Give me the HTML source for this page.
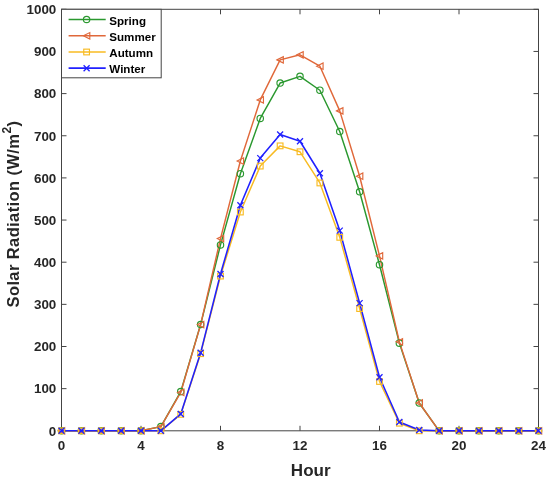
<!DOCTYPE html>
<html><head><meta charset="utf-8"><style>
html,body{margin:0;padding:0;background:#fff;width:550px;height:480px;overflow:hidden}
svg{display:block}
</style></head><body><svg width="550" height="480" viewBox="0 0 550 480"><rect x="61.5" y="9.3" width="477.0" height="421.5" fill="#fff" stroke="none"/><path d="M61.5,430.80h5M538.5,430.80h-5M61.5,388.65h5M538.5,388.65h-5M61.5,346.50h5M538.5,346.50h-5M61.5,304.35h5M538.5,304.35h-5M61.5,262.20h5M538.5,262.20h-5M61.5,220.05h5M538.5,220.05h-5M61.5,177.90h5M538.5,177.90h-5M61.5,135.75h5M538.5,135.75h-5M61.5,93.60h5M538.5,93.60h-5M61.5,51.45h5M538.5,51.45h-5M61.5,9.30h5M538.5,9.30h-5M61.50,430.8v-5M61.50,9.3v5M141.00,430.8v-5M141.00,9.3v5M220.50,430.8v-5M220.50,9.3v5M300.00,430.8v-5M300.00,9.3v5M379.50,430.8v-5M379.50,9.3v5M459.00,430.8v-5M459.00,9.3v5M538.50,430.8v-5M538.50,9.3v5" stroke="#444444" stroke-width="1" fill="none"/><rect x="61.5" y="9.3" width="477.0" height="421.5" fill="none" stroke="#444444" stroke-width="1"/><polyline points="61.50,430.80 81.38,430.80 101.25,430.80 121.12,430.80 141.00,430.80 160.88,426.59 180.75,391.60 200.62,324.58 220.50,244.92 240.38,173.69 260.25,118.47 280.12,83.06 300.00,76.32 319.88,90.23 339.75,131.54 359.62,191.81 379.50,264.73 399.38,343.13 419.25,402.98 439.12,430.80 459.00,430.80 478.88,430.80 498.75,430.80 518.62,430.80 538.50,430.80" fill="none" stroke="#2a982f" stroke-width="1.45" stroke-linejoin="round"/><polyline points="61.50,430.80 81.38,430.80 101.25,430.80 121.12,430.80 141.00,430.80 160.88,426.59 180.75,392.44 200.62,324.58 220.50,238.60 240.38,161.04 260.25,99.92 280.12,59.88 300.00,54.82 319.88,66.20 339.75,110.88 359.62,176.21 379.50,255.88 399.38,341.86 419.25,402.98 439.12,430.80 459.00,430.80 478.88,430.80 498.75,430.80 518.62,430.80 538.50,430.80" fill="none" stroke="#e0683a" stroke-width="1.45" stroke-linejoin="round"/><polyline points="61.50,430.80 81.38,430.80 101.25,430.80 121.12,430.80 141.00,430.80 160.88,430.80 180.75,414.36 200.62,353.67 220.50,276.11 240.38,212.04 260.25,166.10 280.12,145.87 300.00,151.77 319.88,182.96 339.75,237.33 359.62,308.56 379.50,381.48 399.38,423.21 419.25,430.80 439.12,430.80 459.00,430.80 478.88,430.80 498.75,430.80 518.62,430.80 538.50,430.80" fill="none" stroke="#f8bb22" stroke-width="1.45" stroke-linejoin="round"/><polyline points="61.50,430.80 81.38,430.80 101.25,430.80 121.12,430.80 141.00,430.80 160.88,430.80 180.75,413.94 200.62,352.82 220.50,274.00 240.38,205.30 260.25,158.09 280.12,134.49 300.00,141.23 319.88,173.26 339.75,230.59 359.62,303.09 379.50,377.27 399.38,421.95 419.25,429.96 439.12,430.80 459.00,430.80 478.88,430.80 498.75,430.80 518.62,430.80 538.50,430.80" fill="none" stroke="#2020ff" stroke-width="1.55" stroke-linejoin="round"/><circle cx="61.50" cy="430.80" r="3.20" fill="none" stroke="#2a982f" stroke-width="1.15"/><circle cx="81.38" cy="430.80" r="3.20" fill="none" stroke="#2a982f" stroke-width="1.15"/><circle cx="101.25" cy="430.80" r="3.20" fill="none" stroke="#2a982f" stroke-width="1.15"/><circle cx="121.12" cy="430.80" r="3.20" fill="none" stroke="#2a982f" stroke-width="1.15"/><circle cx="141.00" cy="430.80" r="3.20" fill="none" stroke="#2a982f" stroke-width="1.15"/><circle cx="160.88" cy="426.59" r="3.20" fill="none" stroke="#2a982f" stroke-width="1.15"/><circle cx="180.75" cy="391.60" r="3.20" fill="none" stroke="#2a982f" stroke-width="1.15"/><circle cx="200.62" cy="324.58" r="3.20" fill="none" stroke="#2a982f" stroke-width="1.15"/><circle cx="220.50" cy="244.92" r="3.20" fill="none" stroke="#2a982f" stroke-width="1.15"/><circle cx="240.38" cy="173.69" r="3.20" fill="none" stroke="#2a982f" stroke-width="1.15"/><circle cx="260.25" cy="118.47" r="3.20" fill="none" stroke="#2a982f" stroke-width="1.15"/><circle cx="280.12" cy="83.06" r="3.20" fill="none" stroke="#2a982f" stroke-width="1.15"/><circle cx="300.00" cy="76.32" r="3.20" fill="none" stroke="#2a982f" stroke-width="1.15"/><circle cx="319.88" cy="90.23" r="3.20" fill="none" stroke="#2a982f" stroke-width="1.15"/><circle cx="339.75" cy="131.54" r="3.20" fill="none" stroke="#2a982f" stroke-width="1.15"/><circle cx="359.62" cy="191.81" r="3.20" fill="none" stroke="#2a982f" stroke-width="1.15"/><circle cx="379.50" cy="264.73" r="3.20" fill="none" stroke="#2a982f" stroke-width="1.15"/><circle cx="399.38" cy="343.13" r="3.20" fill="none" stroke="#2a982f" stroke-width="1.15"/><circle cx="419.25" cy="402.98" r="3.20" fill="none" stroke="#2a982f" stroke-width="1.15"/><circle cx="439.12" cy="430.80" r="3.20" fill="none" stroke="#2a982f" stroke-width="1.15"/><circle cx="459.00" cy="430.80" r="3.20" fill="none" stroke="#2a982f" stroke-width="1.15"/><circle cx="478.88" cy="430.80" r="3.20" fill="none" stroke="#2a982f" stroke-width="1.15"/><circle cx="498.75" cy="430.80" r="3.20" fill="none" stroke="#2a982f" stroke-width="1.15"/><circle cx="518.62" cy="430.80" r="3.20" fill="none" stroke="#2a982f" stroke-width="1.15"/><circle cx="538.50" cy="430.80" r="3.20" fill="none" stroke="#2a982f" stroke-width="1.15"/><path d="M58.30,430.80L64.70,427.60L64.70,434.00Z" fill="none" stroke="#e0683a" stroke-width="1.15"/><path d="M78.17,430.80L84.58,427.60L84.58,434.00Z" fill="none" stroke="#e0683a" stroke-width="1.15"/><path d="M98.05,430.80L104.45,427.60L104.45,434.00Z" fill="none" stroke="#e0683a" stroke-width="1.15"/><path d="M117.92,430.80L124.33,427.60L124.33,434.00Z" fill="none" stroke="#e0683a" stroke-width="1.15"/><path d="M137.80,430.80L144.20,427.60L144.20,434.00Z" fill="none" stroke="#e0683a" stroke-width="1.15"/><path d="M157.68,426.59L164.07,423.39L164.07,429.79Z" fill="none" stroke="#e0683a" stroke-width="1.15"/><path d="M177.55,392.44L183.95,389.24L183.95,395.64Z" fill="none" stroke="#e0683a" stroke-width="1.15"/><path d="M197.43,324.58L203.82,321.38L203.82,327.78Z" fill="none" stroke="#e0683a" stroke-width="1.15"/><path d="M217.30,238.60L223.70,235.40L223.70,241.80Z" fill="none" stroke="#e0683a" stroke-width="1.15"/><path d="M237.18,161.04L243.57,157.84L243.57,164.24Z" fill="none" stroke="#e0683a" stroke-width="1.15"/><path d="M257.05,99.92L263.45,96.72L263.45,103.12Z" fill="none" stroke="#e0683a" stroke-width="1.15"/><path d="M276.93,59.88L283.32,56.68L283.32,63.08Z" fill="none" stroke="#e0683a" stroke-width="1.15"/><path d="M296.80,54.82L303.20,51.62L303.20,58.02Z" fill="none" stroke="#e0683a" stroke-width="1.15"/><path d="M316.68,66.20L323.07,63.00L323.07,69.40Z" fill="none" stroke="#e0683a" stroke-width="1.15"/><path d="M336.55,110.88L342.95,107.68L342.95,114.08Z" fill="none" stroke="#e0683a" stroke-width="1.15"/><path d="M356.43,176.21L362.82,173.01L362.82,179.41Z" fill="none" stroke="#e0683a" stroke-width="1.15"/><path d="M376.30,255.88L382.70,252.68L382.70,259.08Z" fill="none" stroke="#e0683a" stroke-width="1.15"/><path d="M396.18,341.86L402.57,338.66L402.57,345.06Z" fill="none" stroke="#e0683a" stroke-width="1.15"/><path d="M416.05,402.98L422.45,399.78L422.45,406.18Z" fill="none" stroke="#e0683a" stroke-width="1.15"/><path d="M435.93,430.80L442.32,427.60L442.32,434.00Z" fill="none" stroke="#e0683a" stroke-width="1.15"/><path d="M455.80,430.80L462.20,427.60L462.20,434.00Z" fill="none" stroke="#e0683a" stroke-width="1.15"/><path d="M475.68,430.80L482.07,427.60L482.07,434.00Z" fill="none" stroke="#e0683a" stroke-width="1.15"/><path d="M495.55,430.80L501.95,427.60L501.95,434.00Z" fill="none" stroke="#e0683a" stroke-width="1.15"/><path d="M515.42,430.80L521.83,427.60L521.83,434.00Z" fill="none" stroke="#e0683a" stroke-width="1.15"/><path d="M535.30,430.80L541.70,427.60L541.70,434.00Z" fill="none" stroke="#e0683a" stroke-width="1.15"/><rect x="58.65" y="427.95" width="5.70" height="5.70" fill="none" stroke="#f8bb22" stroke-width="1.15"/><rect x="78.53" y="427.95" width="5.70" height="5.70" fill="none" stroke="#f8bb22" stroke-width="1.15"/><rect x="98.40" y="427.95" width="5.70" height="5.70" fill="none" stroke="#f8bb22" stroke-width="1.15"/><rect x="118.28" y="427.95" width="5.70" height="5.70" fill="none" stroke="#f8bb22" stroke-width="1.15"/><rect x="138.15" y="427.95" width="5.70" height="5.70" fill="none" stroke="#f8bb22" stroke-width="1.15"/><rect x="158.03" y="427.95" width="5.70" height="5.70" fill="none" stroke="#f8bb22" stroke-width="1.15"/><rect x="177.90" y="411.51" width="5.70" height="5.70" fill="none" stroke="#f8bb22" stroke-width="1.15"/><rect x="197.78" y="350.82" width="5.70" height="5.70" fill="none" stroke="#f8bb22" stroke-width="1.15"/><rect x="217.65" y="273.26" width="5.70" height="5.70" fill="none" stroke="#f8bb22" stroke-width="1.15"/><rect x="237.53" y="209.19" width="5.70" height="5.70" fill="none" stroke="#f8bb22" stroke-width="1.15"/><rect x="257.40" y="163.25" width="5.70" height="5.70" fill="none" stroke="#f8bb22" stroke-width="1.15"/><rect x="277.27" y="143.02" width="5.70" height="5.70" fill="none" stroke="#f8bb22" stroke-width="1.15"/><rect x="297.15" y="148.92" width="5.70" height="5.70" fill="none" stroke="#f8bb22" stroke-width="1.15"/><rect x="317.02" y="180.11" width="5.70" height="5.70" fill="none" stroke="#f8bb22" stroke-width="1.15"/><rect x="336.90" y="234.48" width="5.70" height="5.70" fill="none" stroke="#f8bb22" stroke-width="1.15"/><rect x="356.77" y="305.71" width="5.70" height="5.70" fill="none" stroke="#f8bb22" stroke-width="1.15"/><rect x="376.65" y="378.63" width="5.70" height="5.70" fill="none" stroke="#f8bb22" stroke-width="1.15"/><rect x="396.52" y="420.36" width="5.70" height="5.70" fill="none" stroke="#f8bb22" stroke-width="1.15"/><rect x="416.40" y="427.95" width="5.70" height="5.70" fill="none" stroke="#f8bb22" stroke-width="1.15"/><rect x="436.27" y="427.95" width="5.70" height="5.70" fill="none" stroke="#f8bb22" stroke-width="1.15"/><rect x="456.15" y="427.95" width="5.70" height="5.70" fill="none" stroke="#f8bb22" stroke-width="1.15"/><rect x="476.02" y="427.95" width="5.70" height="5.70" fill="none" stroke="#f8bb22" stroke-width="1.15"/><rect x="495.90" y="427.95" width="5.70" height="5.70" fill="none" stroke="#f8bb22" stroke-width="1.15"/><rect x="515.77" y="427.95" width="5.70" height="5.70" fill="none" stroke="#f8bb22" stroke-width="1.15"/><rect x="535.65" y="427.95" width="5.70" height="5.70" fill="none" stroke="#f8bb22" stroke-width="1.15"/><path d="M58.50,427.80L64.50,433.80M58.50,433.80L64.50,427.80" stroke="#2020ff" stroke-width="1.3"/><path d="M78.38,427.80L84.38,433.80M78.38,433.80L84.38,427.80" stroke="#2020ff" stroke-width="1.3"/><path d="M98.25,427.80L104.25,433.80M98.25,433.80L104.25,427.80" stroke="#2020ff" stroke-width="1.3"/><path d="M118.12,427.80L124.12,433.80M118.12,433.80L124.12,427.80" stroke="#2020ff" stroke-width="1.3"/><path d="M138.00,427.80L144.00,433.80M138.00,433.80L144.00,427.80" stroke="#2020ff" stroke-width="1.3"/><path d="M157.88,427.80L163.88,433.80M157.88,433.80L163.88,427.80" stroke="#2020ff" stroke-width="1.3"/><path d="M177.75,410.94L183.75,416.94M177.75,416.94L183.75,410.94" stroke="#2020ff" stroke-width="1.3"/><path d="M197.62,349.82L203.62,355.82M197.62,355.82L203.62,349.82" stroke="#2020ff" stroke-width="1.3"/><path d="M217.50,271.00L223.50,277.00M217.50,277.00L223.50,271.00" stroke="#2020ff" stroke-width="1.3"/><path d="M237.38,202.30L243.38,208.30M237.38,208.30L243.38,202.30" stroke="#2020ff" stroke-width="1.3"/><path d="M257.25,155.09L263.25,161.09M257.25,161.09L263.25,155.09" stroke="#2020ff" stroke-width="1.3"/><path d="M277.12,131.49L283.12,137.49M277.12,137.49L283.12,131.49" stroke="#2020ff" stroke-width="1.3"/><path d="M297.00,138.23L303.00,144.23M297.00,144.23L303.00,138.23" stroke="#2020ff" stroke-width="1.3"/><path d="M316.88,170.26L322.88,176.26M316.88,176.26L322.88,170.26" stroke="#2020ff" stroke-width="1.3"/><path d="M336.75,227.59L342.75,233.59M336.75,233.59L342.75,227.59" stroke="#2020ff" stroke-width="1.3"/><path d="M356.62,300.09L362.62,306.09M356.62,306.09L362.62,300.09" stroke="#2020ff" stroke-width="1.3"/><path d="M376.50,374.27L382.50,380.27M376.50,380.27L382.50,374.27" stroke="#2020ff" stroke-width="1.3"/><path d="M396.38,418.95L402.38,424.95M396.38,424.95L402.38,418.95" stroke="#2020ff" stroke-width="1.3"/><path d="M416.25,426.96L422.25,432.96M416.25,432.96L422.25,426.96" stroke="#2020ff" stroke-width="1.3"/><path d="M436.12,427.80L442.12,433.80M436.12,433.80L442.12,427.80" stroke="#2020ff" stroke-width="1.3"/><path d="M456.00,427.80L462.00,433.80M456.00,433.80L462.00,427.80" stroke="#2020ff" stroke-width="1.3"/><path d="M475.88,427.80L481.88,433.80M475.88,433.80L481.88,427.80" stroke="#2020ff" stroke-width="1.3"/><path d="M495.75,427.80L501.75,433.80M495.75,433.80L501.75,427.80" stroke="#2020ff" stroke-width="1.3"/><path d="M515.62,427.80L521.62,433.80M515.62,433.80L521.62,427.80" stroke="#2020ff" stroke-width="1.3"/><path d="M535.50,427.80L541.50,433.80M535.50,433.80L541.50,427.80" stroke="#2020ff" stroke-width="1.3"/><g font-family="Liberation Sans, Arial, sans-serif" font-weight="bold" font-size="13.4" fill="#262626"><text x="56.3" y="435.60" text-anchor="end">0</text><text x="56.3" y="393.45" text-anchor="end">100</text><text x="56.3" y="351.30" text-anchor="end">200</text><text x="56.3" y="309.15" text-anchor="end">300</text><text x="56.3" y="267.00" text-anchor="end">400</text><text x="56.3" y="224.85" text-anchor="end">500</text><text x="56.3" y="182.70" text-anchor="end">600</text><text x="56.3" y="140.55" text-anchor="end">700</text><text x="56.3" y="98.40" text-anchor="end">800</text><text x="56.3" y="56.25" text-anchor="end">900</text><text x="56.3" y="14.10" text-anchor="end">1000</text><text x="61.50" y="450.3" text-anchor="middle">0</text><text x="141.00" y="450.3" text-anchor="middle">4</text><text x="220.50" y="450.3" text-anchor="middle">8</text><text x="300.00" y="450.3" text-anchor="middle">12</text><text x="379.50" y="450.3" text-anchor="middle">16</text><text x="459.00" y="450.3" text-anchor="middle">20</text><text x="538.50" y="450.3" text-anchor="middle">24</text></g><text x="310.7" y="475.8" text-anchor="middle" font-family="Liberation Sans, Arial, sans-serif" font-weight="bold" font-size="17" fill="#262626">Hour</text><text transform="translate(18.6,307.5) rotate(-90)" text-anchor="start" letter-spacing="0.4" font-family="Liberation Sans, Arial, sans-serif" font-weight="bold" font-size="16.5" fill="#262626">Solar Radiation (W/m<tspan font-size="12" dy="-7.5">2</tspan><tspan dy="7.5">)</tspan></text><rect x="61.5" y="9.3" width="99.69999999999999" height="68.5" fill="#fff" stroke="#444444" stroke-width="1"/><path d="M68.6,19.5H105.7" stroke="#2a982f" stroke-width="1.5999999999999999"/><circle cx="86.60" cy="19.50" r="3.20" fill="none" stroke="#2a982f" stroke-width="1.15"/><text x="109.3" y="24.60" font-family="Liberation Sans, Arial, sans-serif" font-weight="bold" font-size="11.6" fill="#000">Spring</text><path d="M68.6,35.8H105.7" stroke="#e0683a" stroke-width="1.5999999999999999"/><path d="M83.40,35.80L89.80,32.60L89.80,39.00Z" fill="none" stroke="#e0683a" stroke-width="1.15"/><text x="109.3" y="40.90" font-family="Liberation Sans, Arial, sans-serif" font-weight="bold" font-size="11.6" fill="#000">Summer</text><path d="M68.6,52.0H105.7" stroke="#f8bb22" stroke-width="1.5999999999999999"/><rect x="83.75" y="49.15" width="5.70" height="5.70" fill="none" stroke="#f8bb22" stroke-width="1.15"/><text x="109.3" y="57.10" font-family="Liberation Sans, Arial, sans-serif" font-weight="bold" font-size="11.6" fill="#000">Autumn</text><path d="M68.6,68.2H105.7" stroke="#2020ff" stroke-width="1.7"/><path d="M83.60,65.20L89.60,71.20M83.60,71.20L89.60,65.20" stroke="#2020ff" stroke-width="1.3"/><text x="109.3" y="73.30" font-family="Liberation Sans, Arial, sans-serif" font-weight="bold" font-size="11.6" fill="#000">Winter</text></svg></body></html>
